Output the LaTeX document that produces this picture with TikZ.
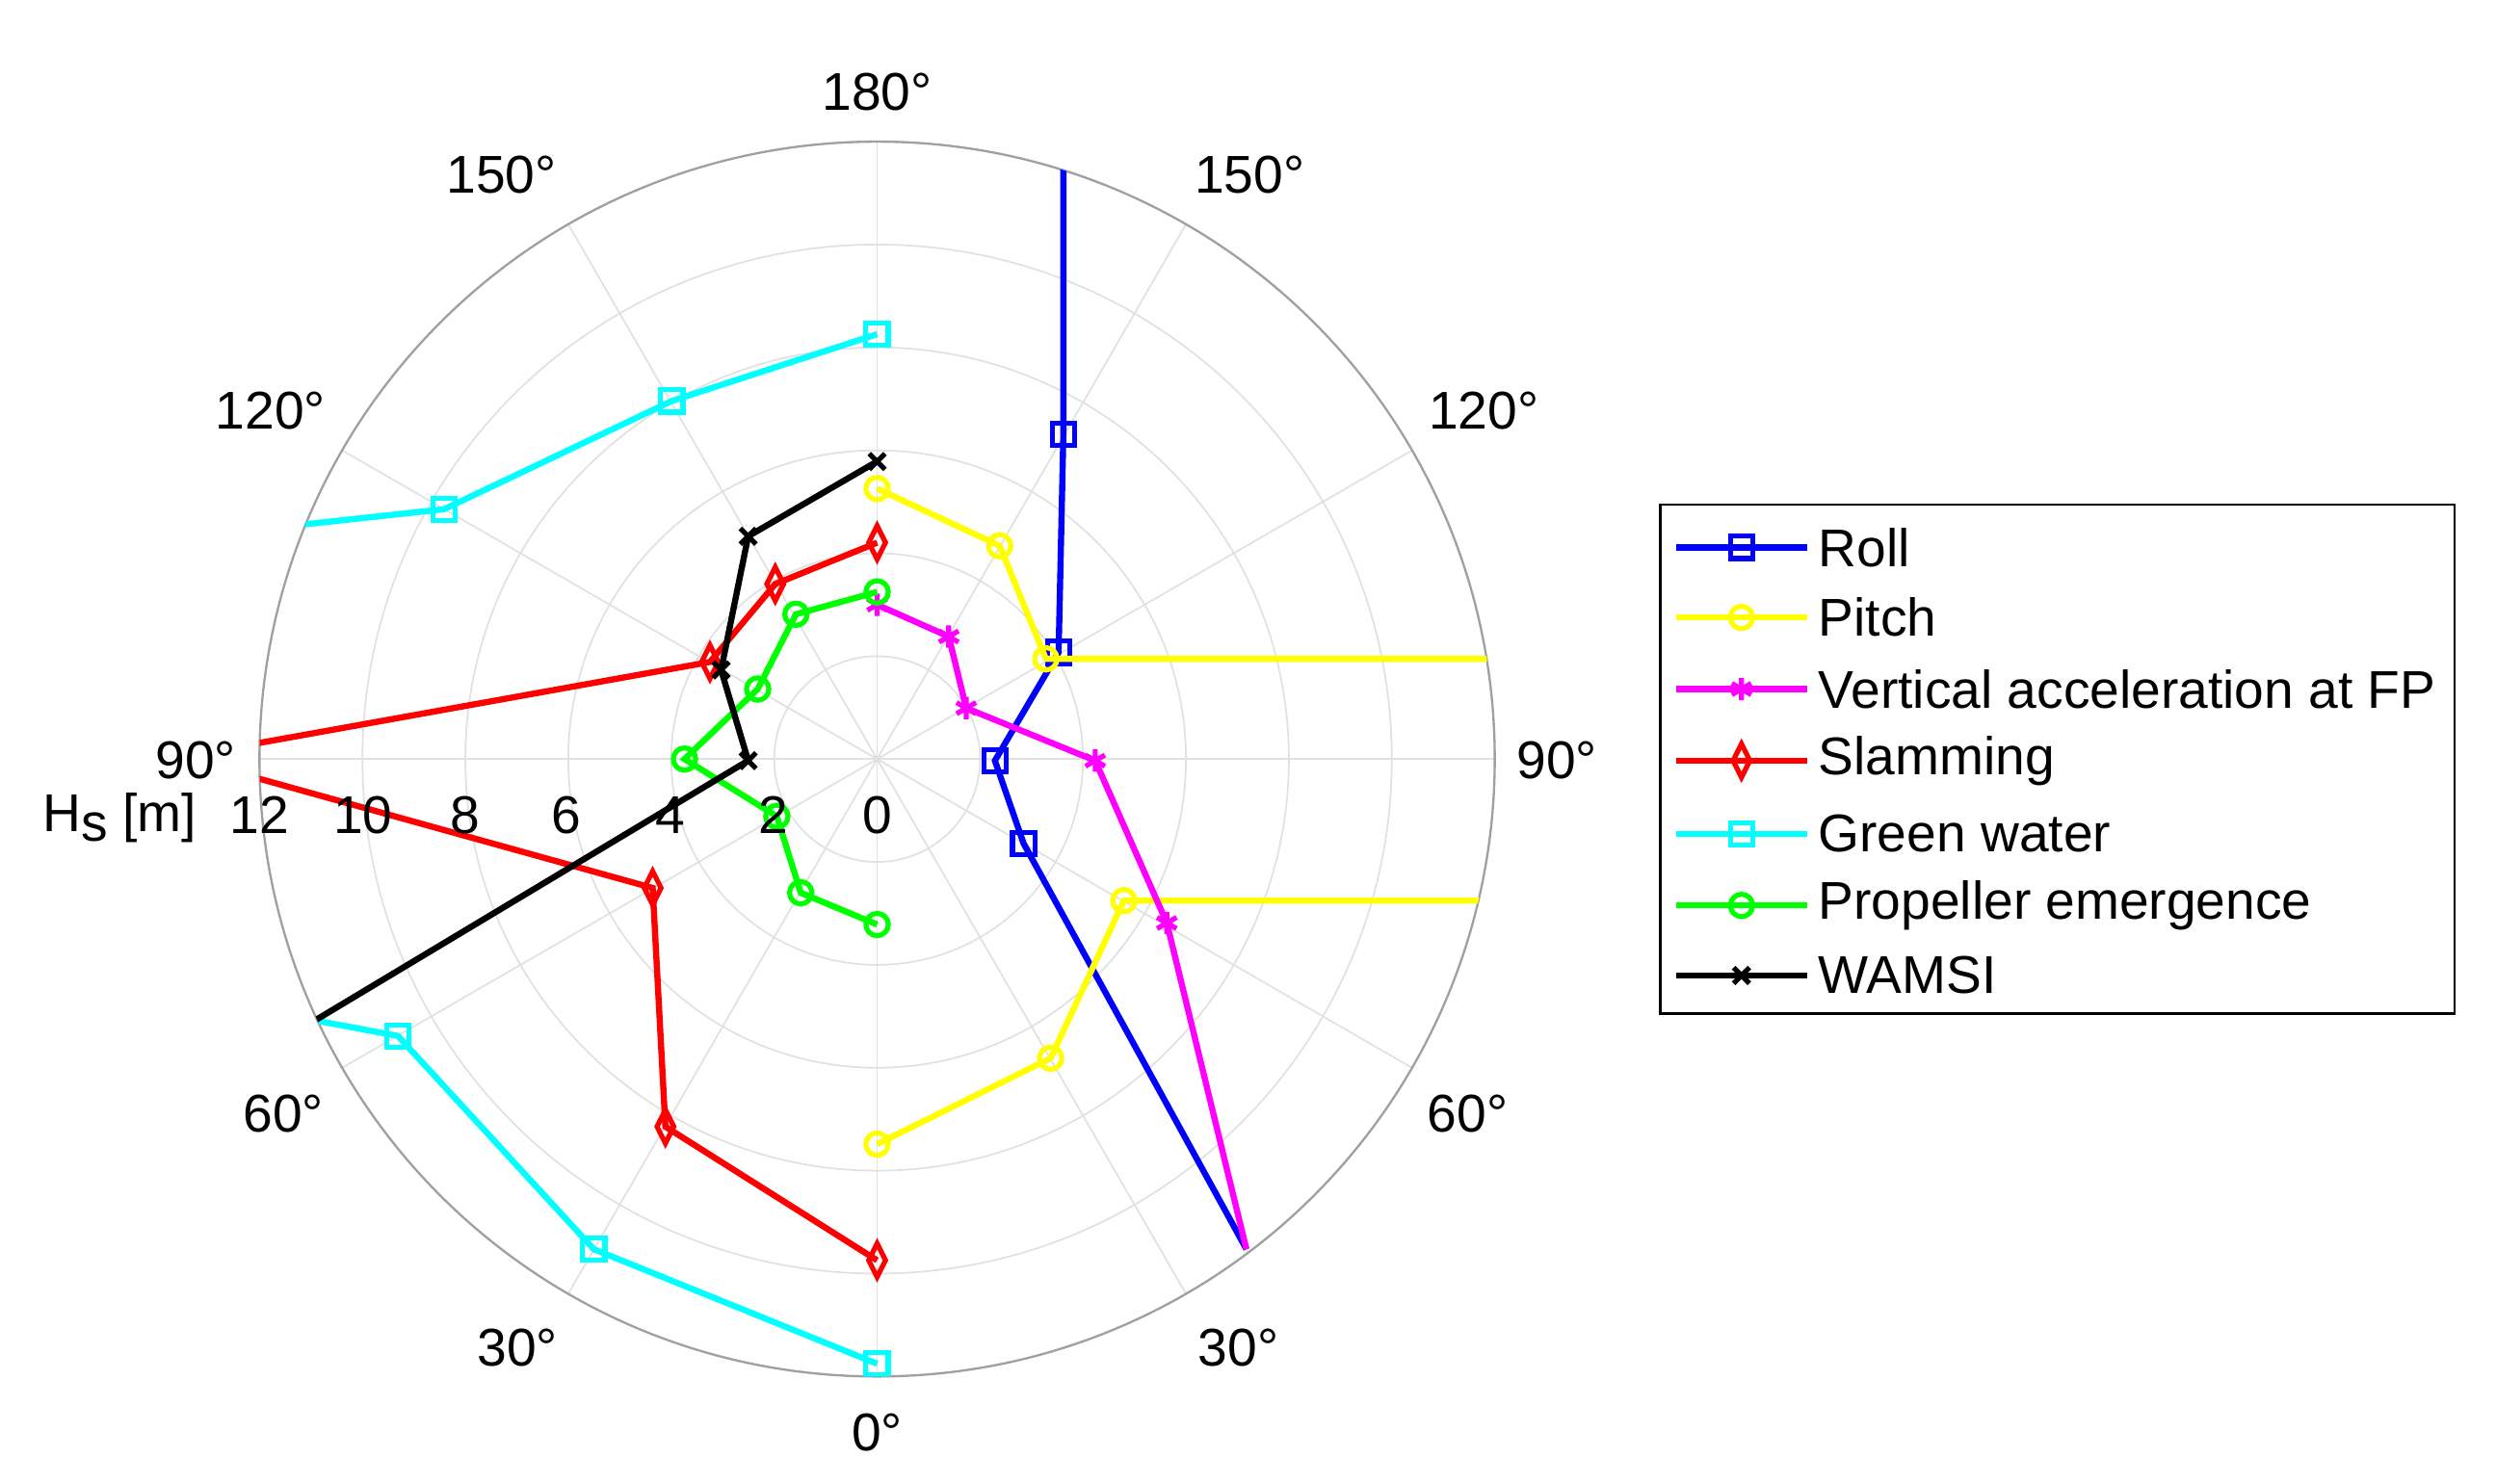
\documentclass[tikz,border=0pt]{standalone}
\usepackage{fontspec}
\setmainfont{Liberation Sans}
\usetikzlibrary{plotmarks}
\definecolor{grd}{RGB}{225,225,225}
\definecolor{outc}{RGB}{160,160,160}
\definecolor{myyel}{RGB}{255,255,0}
\definecolor{mycyan}{RGB}{0,255,255}
\definecolor{mymag}{RGB}{255,0,255}
\definecolor{myblue}{RGB}{0,0,255}
\definecolor{mygreen}{RGB}{0,255,0}
\definecolor{myred}{RGB}{255,0,0}
\begin{document}
\begin{tikzpicture}[x=0.02cm,y=-0.02cm,
  lbl/.style={font=\fontsize{19}{21}\selectfont,inner sep=0pt},
  ser/.style={line width=2.2pt},
  mk/.style={mark size=4pt, mark options={solid,line width=1.8pt}},
  dmk/.style={mark size=4pt, mark options={solid,line width=1.8pt,yscale=1.5}}]
\useasboundingbox (0,0) rectangle (1568,932);
\coordinate (c) at (551,477);
% grid
\foreach \r in {64.67,129.33,194,258.67,323.33}
  \draw[grd,line width=0.6pt] (c) circle[radius=\r];
\foreach \a in {0,30,...,330}
  \draw[grd,line width=0.6pt] (c) -- ++(\a:388);
\draw[outc,line width=0.8pt] (c) circle[radius=388];
% data
\begin{scope}
\clip (c) circle[radius=388];
\draw[ser,myblue,mk] plot[mark=square,mark indices={2,3,4,5}] coordinates{(668,60)(668,273)(665,410)(625,478)(643,530)(783,785)};
\draw[ser,myyel,mk] plot[mark=o,mark indices={1,2,3}] coordinates{(551,307)(628,343)(657,414)(960,414)};
\draw[ser,myyel,mk] plot[mark=o,mark indices={2,3,4}] coordinates{(960,566)(706,566)(660,665)(551,719)};
\draw[ser,mymag,mk] plot[mark=asterisk,mark indices={1,2,3,4,5}] coordinates{(551,380)(596,400)(607,445)(688,478)(733,580)(783,785)};
\draw[ser,myred,dmk] plot[mark=diamond,mark indices={1,2,3}] coordinates{(551,341)(487,367)(446,416)(140,471)};
\draw[ser,myred,dmk] plot[mark=diamond,mark indices={2,3,4}] coordinates{(140,483)(410,558)(418,708)(551,792)};
\draw[ser,mycyan,mk] plot[mark=square,mark indices={1,2,3}] coordinates{(551,210)(422,252)(279,320)(150,334)};
\draw[ser,mycyan,mk] plot[mark=square,mark indices={2,3,4}] coordinates{(170,636)(250,651)(373,785)(551,857)};
\draw[ser,mygreen,mk] plot[mark=o] coordinates{(551,372)(500,386)(476,433)(430,477)(488,513)(503,561)(551,581)};
\draw[ser,black,mk] plot[mark=x,mark indices={1,2,3,4}] coordinates{(551,290)(470,337)(453,421)(470,478)(150,670)};
\end{scope}
% angle labels
\node[lbl] (a180) at (551,58) {180°};
\node[lbl] (a150l) at (315,110) {150°};
\node[lbl] (a150r) at (785,110) {150°};
\node[lbl] (a120l) at (170,258) {120°};
\node[lbl] (a120r) at (932,258) {120°};
\node[lbl] (a90l) at (123,478) {90°};
\node[lbl] (a90r) at (978,478) {90°};
\node[lbl] (a60l) at (178,700) {60°};
\node[lbl] (a60r) at (922,700) {60°};
\node[lbl] (a30l) at (325,847) {30°};
\node[lbl] (a30r) at (778,847) {30°};
\node[lbl] (a0) at (551,900) {0°};
\foreach \v/\x in {12/163,10/228,8/292,6/356,4/421,2/486,0/551}
  \node[lbl] (r\v) at (\x,512) {\v};
\node[lbl] (hs) at (75,514) {H\raisebox{-0.35ex}{s} [m]};
% legend
\draw[black,line width=0.8pt,fill=white] (1043,317) rectangle (1542,637);
\foreach \y/\col/\m/\t [count=\i] in {344/myblue/square/Roll,388/myyel/o/Pitch,433/mymag/asterisk/Vertical acceleration at FP,478/myred/diamond/Slamming,524/mycyan/square/Green water,569/mygreen/o/Propeller emergence,613/black/x/WAMSI}{
  \draw[ser,\col] (1053,\y) -- (1135,\y);
  \ifnum\i=4
    \draw[\col,dmk] plot[mark=\m] coordinates{(1094,\y)};
  \else
    \draw[\col,mk] plot[mark=\m] coordinates{(1094,\y)};
  \fi
  \node[lbl,anchor=west] (leg\i) at (1142,\y) {\t};
}
\end{tikzpicture}
\end{document}
